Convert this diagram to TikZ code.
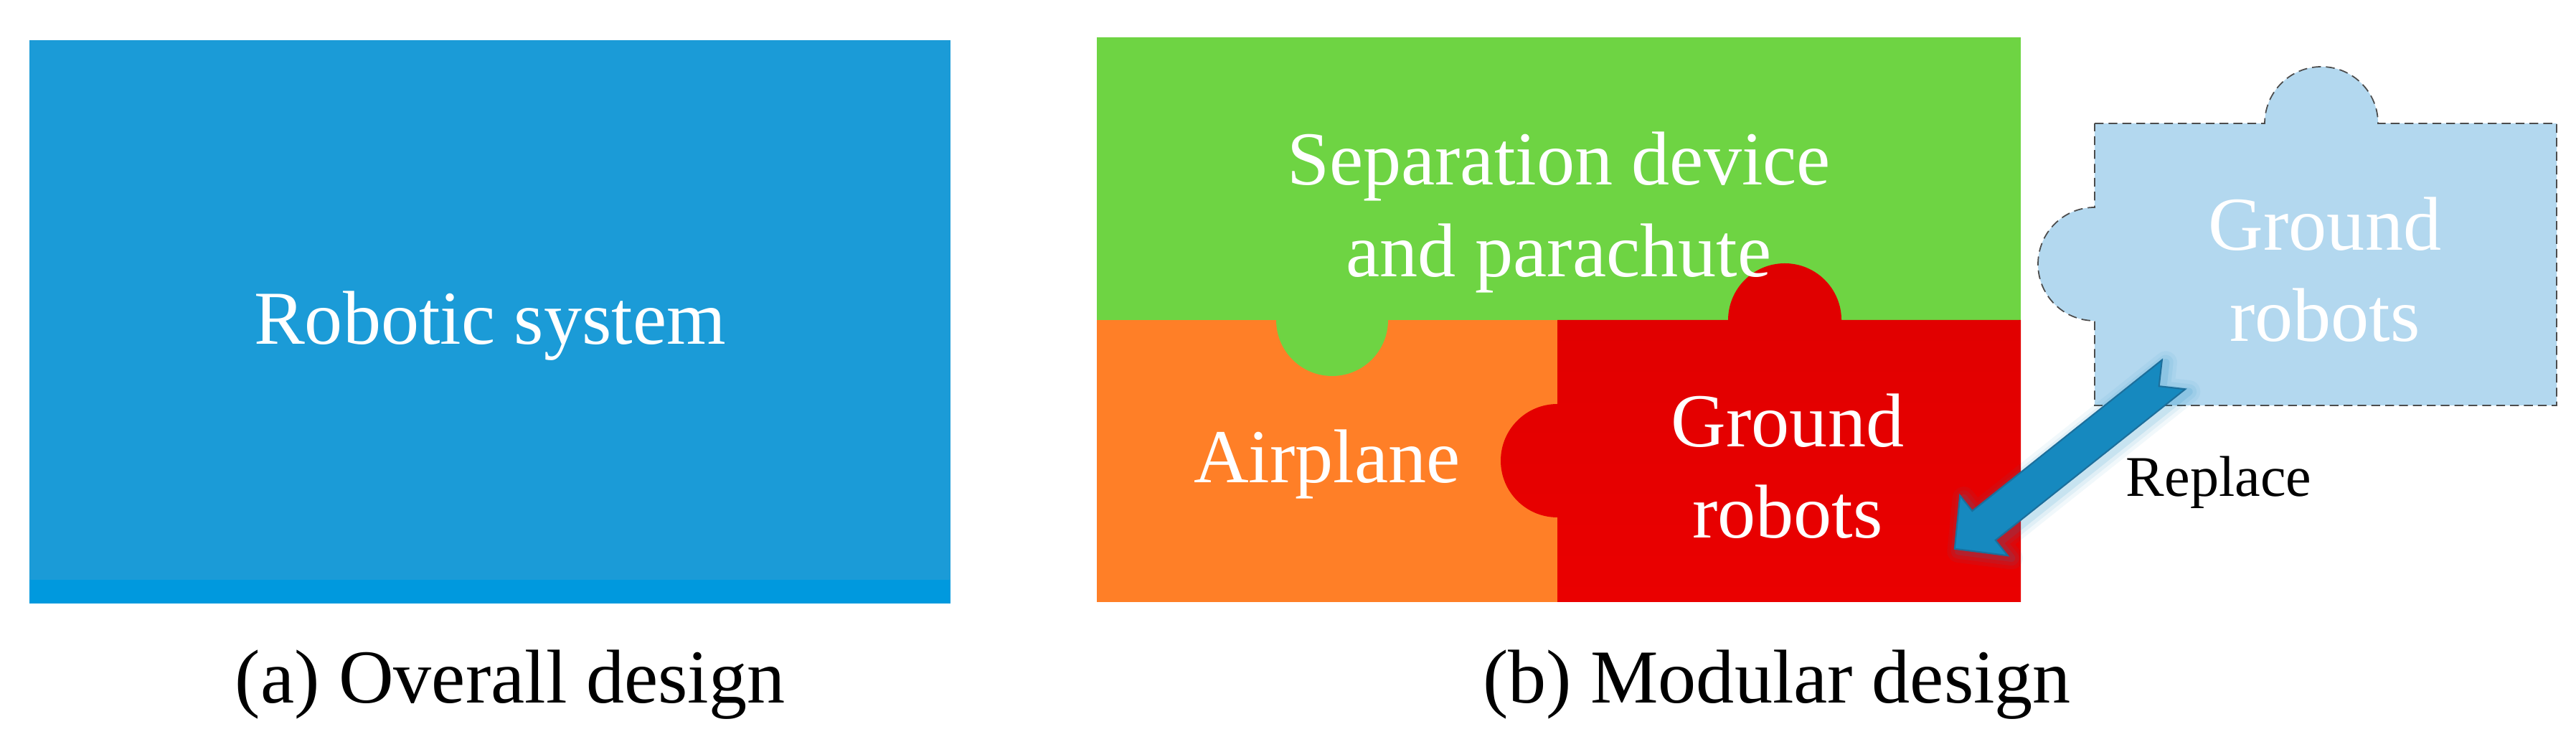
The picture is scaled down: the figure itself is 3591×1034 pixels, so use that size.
\documentclass[tikz,border=0pt]{standalone}
\usepackage{fontspec}
\setmainfont{Liberation Serif}
\usepackage{xcolor}

\definecolor{robotblue}{HTML}{1B9BD7}
\definecolor{robotstrip}{HTML}{0099DE}
\definecolor{sepgreen}{HTML}{6ED443}
\definecolor{planeorange}{HTML}{FF7F27}
\definecolor{groundred}{HTML}{DF0000}
\definecolor{groundredlow}{HTML}{EA0000}
\definecolor{newblue}{HTML}{B3D8EF}
\definecolor{arrowblue}{HTML}{1689BF}
\definecolor{arrowedge}{HTML}{1C6F9C}

\begin{document}
\begin{tikzpicture}[x=0.01cm, y=0.01cm,
  boxtext/.style={text=white, font=\fontsize{30.2}{36.2}\selectfont, align=center, inner sep=0pt},
  captiontext/.style={text=black, font=\fontsize{30.2}{36.2}\selectfont, anchor=base, inner sep=0pt},
  newpiece/.style={fill=newblue, draw=black!70, line width=0.5pt, dash pattern=on 3.5pt off 2pt}]

\useasboundingbox (0,0) rectangle (3591,1034);

% Systeme complet
\fill[robotblue] (41,193) rectangle (1325,978);
\fill[robotstrip] (41,193) rectangle (1325,226);
\node[boxtext, anchor=base] (robotic) at (683,554) {Robotic system};

% Avion
\fill[planeorange] (1529,195) rectangle (2171,588);

% Separation et parachute
\fill[sepgreen] (1529,588) rectangle (2817,982);
\fill[sepgreen] (1857,588) circle[radius=78];

% Robots au sol
\shade[top color=groundred, bottom color=groundredlow]
  (2171,195) -- (2171,313) arc[start angle=270, end angle=90, radius=79]
  -- (2171,588) -- (2409,588) arc[start angle=180, end angle=0, radius=79]
  -- (2817,588) -- (2817,195) -- cycle;

% Nouvelle piece
\draw[newpiece] (2920,862) -- (3157,862) arc[start angle=180, end angle=0, radius=79]
  -- (3564,862) -- (3564,469) -- (2920,469) -- (2920,587)
  arc[start angle=270, end angle=90, radius=79] -- cycle;

% Textes des pieces
\node[boxtext] (separation) at (2173,738) {Separation device\\and parachute};
\node[boxtext, anchor=base] (airplane) at (1850,361) {Airplane};
\node[boxtext] (groundold) at (2492,384) {Ground\\robots};
\node[boxtext] (groundnew) at (3241,658) {Ground\\robots};

% Fleche de remplacement
\begin{scope}[shift={(3030,512)}, rotate=218.5]
  \foreach \w/\o in {9/0.06, 6/0.08, 3/0.12}
    \draw[arrowblue, line width=\w pt, opacity=\o, line join=round, shift={(-2,6)}]
      (0,-26) -- (26,0) -- (0,26) -- (338,26) -- (338,53.5) -- (390,0) -- (338,-53.5) -- (338,-26) -- cycle;
  \draw[fill=arrowblue, draw=arrowedge, line width=0.6pt, line join=miter]
    (0,-26) -- (26,0) -- (0,26) -- (338,26) -- (338,53.5) -- (390,0) -- (338,-53.5) -- (338,-26) -- cycle;
\end{scope}
\node[captiontext, font=\fontsize{22.8}{27}\selectfont] (replace) at (3093,342) {Replace};

% Legendes
\node[captiontext] (capa) at (711,54) {(a) Overall design};
\node[captiontext] (capb) at (2477,54) {(b) Modular design};

\end{tikzpicture}
\end{document}
